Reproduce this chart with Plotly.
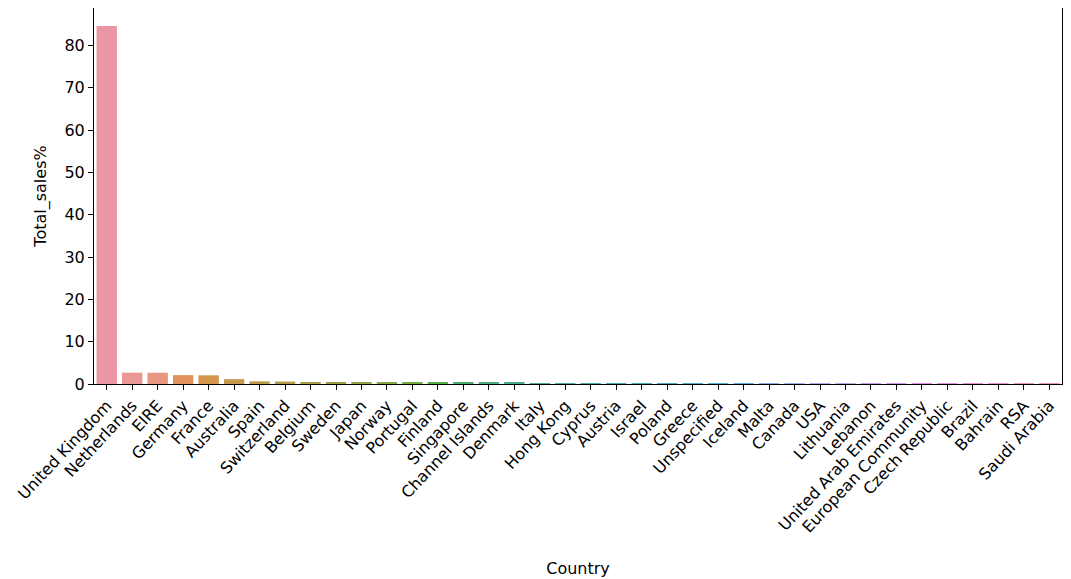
import math
import colorsys
import plotly.graph_objects as go

# ---------------- data ----------------
countries = [
    "United Kingdom", "Netherlands", "EIRE", "Germany", "France", "Australia",
    "Spain", "Switzerland", "Belgium", "Sweden", "Japan", "Norway", "Portugal",
    "Finland", "Singapore", "Channel Islands", "Denmark", "Italy", "Hong Kong",
    "Cyprus", "Austria", "Israel", "Poland", "Greece", "Unspecified", "Iceland",
    "Malta", "Canada", "USA", "Lithuania", "Lebanon", "United Arab Emirates",
    "European Community", "Czech Republic", "Brazil", "Bahrain", "RSA",
    "Saudi Arabia",
]
total_sales_pct = [
    84.6, 2.68, 2.66, 2.1, 2.05, 1.15,
    0.63, 0.58, 0.30, 0.29, 0.28, 0.28, 0.27,
    0.27, 0.26, 0.26, 0.25, 0.09, 0.05,
    0.045, 0.04, 0.035, 0.03, 0.026, 0.024, 0.02,
    0.018, 0.016, 0.014, 0.012, 0.011, 0.01,
    0.009, 0.008, 0.007, 0.006, 0.005,
    0.002,
]
y_ticks = [0, 10, 20, 30, 40, 50, 60, 70, 80]

# ---------------- husl palette (seaborn style) ----------------
_m = [
    [3.2406, -1.5372, -0.4986],
    [-0.9689, 1.8758, 0.0415],
    [0.0557, -0.2040, 1.0570],
]
_refU, _refV = 0.19784, 0.46834
_lab_e, _lab_k = 0.008856, 903.3


def _max_chroma(L, H):
    hrad = math.radians(H)
    sinH, cosH = math.sin(hrad), math.cos(hrad)
    sub1 = (L + 16) ** 3 / 1560896.0
    sub2 = sub1 if sub1 > 0.008856 else L / 903.3
    result = float("inf")
    for m1, m2, m3 in _m:
        top = (0.99915 * m1 + 1.05122 * m2 + 1.14460 * m3) * sub2
        rbottom = 0.86330 * m3 - 0.17266 * m2
        lbottom = 0.12949 * m3 - 0.38848 * m1
        bottom = (rbottom * sinH + lbottom * cosH) * sub2
        for t in (0.0, 1.0):
            C = L * (top - 1.05122 * t) / (bottom + 0.17266 * sinH * t)
            if 0.0 < C < result:
                result = C
    return result


def _f_inv(t):
    return t ** 3 if t ** 3 > _lab_e else (116.0 * t - 16.0) / _lab_k


def _from_linear(c):
    return 12.92 * c if c <= 0.0031308 else 1.055 * c ** (1 / 2.4) - 0.055


def husl_to_rgb(h, s, l):
    C = _max_chroma(l, h) / 100.0 * s
    hr = math.radians(h)
    U, V = math.cos(hr) * C, math.sin(hr) * C
    L = l
    varY = _f_inv((L + 16.0) / 116.0)
    varU = U / (13.0 * L) + _refU
    varV = V / (13.0 * L) + _refV
    Y = varY
    X = -(9.0 * Y * varU) / ((varU - 4.0) * varV - varU * varV)
    Z = (9.0 * Y - 15.0 * varV * Y - varV * X) / (3.0 * varV)
    rgb = [_from_linear(r[0] * X + r[1] * Y + r[2] * Z) for r in _m]
    return [min(max(c, 0.0), 1.0) for c in rgb]


def husl_palette(n, h=0.01, s=0.9, l=0.7, desat=0.75):
    out = []
    for i in range(n):
        hue = ((i / n) + h) % 1 * 359
        r, g, b = husl_to_rgb(hue, s * 99, l * 99)
        hh, ll, ss = colorsys.rgb_to_hls(r, g, b)
        r, g, b = colorsys.hls_to_rgb(hh, ll, ss * desat)
        out.append("rgb(%d,%d,%d)" % (round(r * 255), round(g * 255), round(b * 255)))
    return out


colors = husl_palette(len(countries))

# ---------------- figure ----------------
fig = go.Figure(
    go.Bar(
        x=countries,
        y=total_sales_pct,
        marker=dict(color=colors, line=dict(width=0)),
        width=0.8,
    )
)

font_family = "DejaVu Sans"
fs = 16
fig.update_layout(
    width=1063,
    height=571,
    margin=dict(l=86, r=9, t=0, b=195),
    plot_bgcolor="white",
    paper_bgcolor="white",
    font=dict(family=font_family, size=fs, color="black"),
    showlegend=False,
)
fig.update_xaxes(
    type="category",
    automargin=False,
    range=[-0.5, len(countries) - 0.5],
    tickangle=-47,
    ticks="outside",
    ticklen=5,
    tickwidth=1,
    tickcolor="black",
    showline=True,
    linecolor="black",
    linewidth=1,
    mirror=True,
    showgrid=False,
    title=dict(text="Country", font=dict(size=fs), standoff=27),
)
fig.update_yaxes(
    automargin=False,
    range=[0, max(total_sales_pct) * 1.05],
    tickvals=y_ticks,
    ticks="outside",
    ticklen=5,
    tickwidth=1,
    tickcolor="black",
    showline=True,
    linecolor="black",
    linewidth=1,
    mirror=True,
    showgrid=False,
    zeroline=False,
    title=dict(text="Total_sales%", font=dict(size=fs), standoff=13),
)

fig.write_html("out.html")
